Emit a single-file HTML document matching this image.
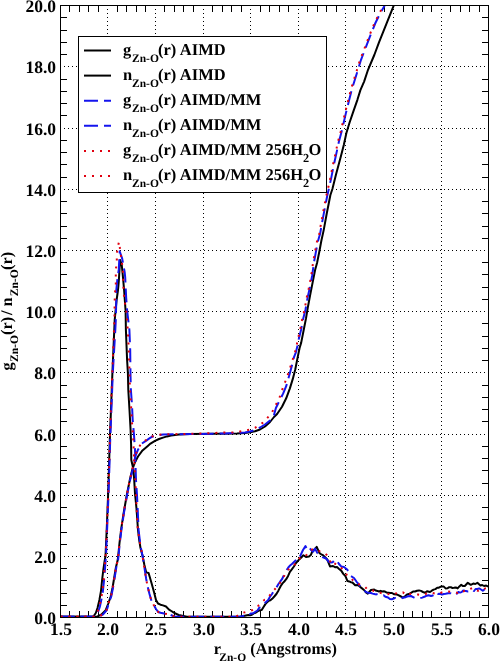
<!DOCTYPE html>
<html><head><meta charset="utf-8"><style>
html,body{margin:0;padding:0;background:#fff;}
svg{display:block;}

.tk{stroke:#000;stroke-width:1;}
text{text-rendering:geometricPrecision;font-family:"Liberation Serif","Times New Roman",serif;font-weight:bold;fill:#000;}
.tl{font-size:17.5px;}
.lg{font-size:16.5px;}
.sub{font-size:11.5px;}
.sub2{font-size:12.3px;}
.ax{font-size:16.3px;}
.axs{font-size:11.5px;}
</style></head><body>
<svg width="500" height="661" viewBox="0 0 500 661">
<defs><clipPath id="pc"><rect x="60" y="5.5" width="429" height="613"/></clipPath><pattern id="vd" x="0" y="1" width="4" height="4" patternUnits="userSpaceOnUse"><rect width="4" height="1"/></pattern><pattern id="hd" x="0" y="0" width="4" height="4" patternUnits="userSpaceOnUse"><rect width="1" height="4"/></pattern></defs>
<rect width="500" height="661" fill="#fff"/>
<rect x="107" y="9" width="1" height="605" fill="url(#vd)"/>
<rect x="155" y="9" width="1" height="605" fill="url(#vd)"/>
<rect x="203" y="9" width="1" height="605" fill="url(#vd)"/>
<rect x="250" y="9" width="1" height="605" fill="url(#vd)"/>
<rect x="298" y="9" width="1" height="605" fill="url(#vd)"/>
<rect x="345" y="9" width="1" height="605" fill="url(#vd)"/>
<rect x="393" y="9" width="1" height="605" fill="url(#vd)"/>
<rect x="441" y="9" width="1" height="605" fill="url(#vd)"/>
<rect x="64" y="556" width="421" height="1" fill="url(#hd)"/>
<rect x="64" y="495" width="421" height="1" fill="url(#hd)"/>
<rect x="64" y="434" width="421" height="1" fill="url(#hd)"/>
<rect x="64" y="372" width="421" height="1" fill="url(#hd)"/>
<rect x="64" y="311" width="421" height="1" fill="url(#hd)"/>
<rect x="64" y="250" width="421" height="1" fill="url(#hd)"/>
<rect x="64" y="189" width="421" height="1" fill="url(#hd)"/>
<rect x="64" y="128" width="421" height="1" fill="url(#hd)"/>
<rect x="64" y="66" width="421" height="1" fill="url(#hd)"/>
<rect x="69" y="611" width="1" height="6"/>
<rect x="69" y="6" width="1" height="6"/>
<rect x="79" y="611" width="1" height="6"/>
<rect x="79" y="6" width="1" height="6"/>
<rect x="88" y="611" width="1" height="6"/>
<rect x="88" y="6" width="1" height="6"/>
<rect x="98" y="611" width="1" height="6"/>
<rect x="98" y="6" width="1" height="6"/>
<rect x="117" y="611" width="1" height="6"/>
<rect x="117" y="6" width="1" height="6"/>
<rect x="126" y="611" width="1" height="6"/>
<rect x="126" y="6" width="1" height="6"/>
<rect x="136" y="611" width="1" height="6"/>
<rect x="136" y="6" width="1" height="6"/>
<rect x="145" y="611" width="1" height="6"/>
<rect x="145" y="6" width="1" height="6"/>
<rect x="164" y="611" width="1" height="6"/>
<rect x="164" y="6" width="1" height="6"/>
<rect x="174" y="611" width="1" height="6"/>
<rect x="174" y="6" width="1" height="6"/>
<rect x="183" y="611" width="1" height="6"/>
<rect x="183" y="6" width="1" height="6"/>
<rect x="193" y="611" width="1" height="6"/>
<rect x="193" y="6" width="1" height="6"/>
<rect x="212" y="611" width="1" height="6"/>
<rect x="212" y="6" width="1" height="6"/>
<rect x="222" y="611" width="1" height="6"/>
<rect x="222" y="6" width="1" height="6"/>
<rect x="231" y="611" width="1" height="6"/>
<rect x="231" y="6" width="1" height="6"/>
<rect x="241" y="611" width="1" height="6"/>
<rect x="241" y="6" width="1" height="6"/>
<rect x="260" y="611" width="1" height="6"/>
<rect x="260" y="6" width="1" height="6"/>
<rect x="269" y="611" width="1" height="6"/>
<rect x="269" y="6" width="1" height="6"/>
<rect x="279" y="611" width="1" height="6"/>
<rect x="279" y="6" width="1" height="6"/>
<rect x="288" y="611" width="1" height="6"/>
<rect x="288" y="6" width="1" height="6"/>
<rect x="307" y="611" width="1" height="6"/>
<rect x="307" y="6" width="1" height="6"/>
<rect x="317" y="611" width="1" height="6"/>
<rect x="317" y="6" width="1" height="6"/>
<rect x="326" y="611" width="1" height="6"/>
<rect x="326" y="6" width="1" height="6"/>
<rect x="336" y="611" width="1" height="6"/>
<rect x="336" y="6" width="1" height="6"/>
<rect x="355" y="611" width="1" height="6"/>
<rect x="355" y="6" width="1" height="6"/>
<rect x="365" y="611" width="1" height="6"/>
<rect x="365" y="6" width="1" height="6"/>
<rect x="374" y="611" width="1" height="6"/>
<rect x="374" y="6" width="1" height="6"/>
<rect x="384" y="611" width="1" height="6"/>
<rect x="384" y="6" width="1" height="6"/>
<rect x="403" y="611" width="1" height="6"/>
<rect x="403" y="6" width="1" height="6"/>
<rect x="412" y="611" width="1" height="6"/>
<rect x="412" y="6" width="1" height="6"/>
<rect x="422" y="611" width="1" height="6"/>
<rect x="422" y="6" width="1" height="6"/>
<rect x="431" y="611" width="1" height="6"/>
<rect x="431" y="6" width="1" height="6"/>
<rect x="450" y="611" width="1" height="6"/>
<rect x="450" y="6" width="1" height="6"/>
<rect x="460" y="611" width="1" height="6"/>
<rect x="460" y="6" width="1" height="6"/>
<rect x="469" y="611" width="1" height="6"/>
<rect x="469" y="6" width="1" height="6"/>
<rect x="479" y="611" width="1" height="6"/>
<rect x="479" y="6" width="1" height="6"/>
<rect x="61" y="605" width="6" height="1"/>
<rect x="482" y="605" width="6" height="1"/>
<rect x="61" y="593" width="6" height="1"/>
<rect x="482" y="593" width="6" height="1"/>
<rect x="61" y="580" width="6" height="1"/>
<rect x="482" y="580" width="6" height="1"/>
<rect x="61" y="568" width="6" height="1"/>
<rect x="482" y="568" width="6" height="1"/>
<rect x="61" y="544" width="6" height="1"/>
<rect x="482" y="544" width="6" height="1"/>
<rect x="61" y="532" width="6" height="1"/>
<rect x="482" y="532" width="6" height="1"/>
<rect x="61" y="519" width="6" height="1"/>
<rect x="482" y="519" width="6" height="1"/>
<rect x="61" y="507" width="6" height="1"/>
<rect x="482" y="507" width="6" height="1"/>
<rect x="61" y="483" width="6" height="1"/>
<rect x="482" y="483" width="6" height="1"/>
<rect x="61" y="470" width="6" height="1"/>
<rect x="482" y="470" width="6" height="1"/>
<rect x="61" y="458" width="6" height="1"/>
<rect x="482" y="458" width="6" height="1"/>
<rect x="61" y="446" width="6" height="1"/>
<rect x="482" y="446" width="6" height="1"/>
<rect x="61" y="421" width="6" height="1"/>
<rect x="482" y="421" width="6" height="1"/>
<rect x="61" y="409" width="6" height="1"/>
<rect x="482" y="409" width="6" height="1"/>
<rect x="61" y="397" width="6" height="1"/>
<rect x="482" y="397" width="6" height="1"/>
<rect x="61" y="385" width="6" height="1"/>
<rect x="482" y="385" width="6" height="1"/>
<rect x="61" y="360" width="6" height="1"/>
<rect x="482" y="360" width="6" height="1"/>
<rect x="61" y="348" width="6" height="1"/>
<rect x="482" y="348" width="6" height="1"/>
<rect x="61" y="336" width="6" height="1"/>
<rect x="482" y="336" width="6" height="1"/>
<rect x="61" y="323" width="6" height="1"/>
<rect x="482" y="323" width="6" height="1"/>
<rect x="61" y="299" width="6" height="1"/>
<rect x="482" y="299" width="6" height="1"/>
<rect x="61" y="287" width="6" height="1"/>
<rect x="482" y="287" width="6" height="1"/>
<rect x="61" y="274" width="6" height="1"/>
<rect x="482" y="274" width="6" height="1"/>
<rect x="61" y="262" width="6" height="1"/>
<rect x="482" y="262" width="6" height="1"/>
<rect x="61" y="238" width="6" height="1"/>
<rect x="482" y="238" width="6" height="1"/>
<rect x="61" y="226" width="6" height="1"/>
<rect x="482" y="226" width="6" height="1"/>
<rect x="61" y="213" width="6" height="1"/>
<rect x="482" y="213" width="6" height="1"/>
<rect x="61" y="201" width="6" height="1"/>
<rect x="482" y="201" width="6" height="1"/>
<rect x="61" y="177" width="6" height="1"/>
<rect x="482" y="177" width="6" height="1"/>
<rect x="61" y="164" width="6" height="1"/>
<rect x="482" y="164" width="6" height="1"/>
<rect x="61" y="152" width="6" height="1"/>
<rect x="482" y="152" width="6" height="1"/>
<rect x="61" y="140" width="6" height="1"/>
<rect x="482" y="140" width="6" height="1"/>
<rect x="61" y="115" width="6" height="1"/>
<rect x="482" y="115" width="6" height="1"/>
<rect x="61" y="103" width="6" height="1"/>
<rect x="482" y="103" width="6" height="1"/>
<rect x="61" y="91" width="6" height="1"/>
<rect x="482" y="91" width="6" height="1"/>
<rect x="61" y="79" width="6" height="1"/>
<rect x="482" y="79" width="6" height="1"/>
<rect x="61" y="54" width="6" height="1"/>
<rect x="482" y="54" width="6" height="1"/>
<rect x="61" y="42" width="6" height="1"/>
<rect x="482" y="42" width="6" height="1"/>
<rect x="61" y="30" width="6" height="1"/>
<rect x="482" y="30" width="6" height="1"/>
<rect x="61" y="17" width="6" height="1"/>
<rect x="482" y="17" width="6" height="1"/>
<g fill="none" stroke-linejoin="round" clip-path="url(#pc)">
<polyline points="60.5,616.7 93.2,616.7 95.8,613.0 97.5,608.0 99.4,600.0 101.0,591.0 102.1,580.0 103.3,570.0 104.5,562.0 105.5,556.0 106.9,525.0 108.1,495.0 108.9,470.0 109.8,440.0 110.6,420.0 112.4,373.0 114.7,320.0 116.6,300.0 118.0,290.0 118.8,281.2 119.6,268.0 120.2,260.0 121.7,264.5 122.7,274.3 123.4,282.0 124.1,290.0 125.6,311.0 125.9,330.0 127.1,360.0 127.9,373.0 128.3,390.0 129.5,410.0 130.6,430.0 131.1,445.0 131.3,460.0 133.4,469.3 134.2,480.0 135.0,493.5 136.5,508.7 138.0,530.0 139.2,540.0 140.5,548.0 142.6,556.0 144.4,565.0 146.2,572.4 148.6,573.0 151.5,583.0 154.0,592.0 156.0,600.0 158.0,603.5 160.5,604.7 163.0,605.4 166.0,606.5 169.0,609.6 171.3,611.0 173.8,612.6 178.6,615.0 187.0,616.7 240.0,616.7 248.4,615.0 250.2,615.2 251.9,614.7 253.7,613.4 255.4,612.8 257.5,611.4 259.6,610.3 261.7,610.0 263.4,607.2 265.2,604.4 266.9,602.4 268.7,600.8 270.4,600.3 272.2,598.8 274.3,596.5 276.4,594.0 278.5,590.4 280.6,586.2 282.5,583.4 284.3,581.5 286.2,579.2 288.1,575.9 289.9,571.8 291.8,569.4 293.9,566.5 296.0,563.0 299.2,559.4 301.3,557.5 303.4,555.2 306.0,557.0 309.0,556.6 310.8,555.1 312.5,551.0 315.0,549.0 316.7,546.8 319.5,553.1 321.2,554.3 323.0,555.2 325.1,557.2 327.2,559.4 330.0,566.4 333.0,566.0 335.0,567.2 337.0,567.1 339.1,569.0 341.2,570.6 343.3,573.9 345.4,576.2 347.5,581.1 349.1,581.4 350.8,582.2 352.4,582.5 355.2,585.3 358.0,585.0 360.8,587.4 364.0,590.0 365.9,592.4 367.8,593.6 371.0,590.0 374.2,589.6 375.8,590.6 377.4,590.9 379.0,591.5 380.6,590.8 382.2,591.5 383.8,591.2 385.4,591.8 387.0,592.7 388.6,592.8 390.3,593.0 392.0,593.0 394.3,594.3 396.6,594.4 398.3,595.2 400.0,596.0 403.0,597.6 405.0,596.2 407.0,594.5 409.0,594.0 411.0,592.8 413.0,591.6 415.0,591.5 417.0,590.7 419.0,590.4 421.0,590.9 423.0,592.0 425.0,592.7 427.0,591.2 430.0,592.0 431.8,590.7 433.6,589.6 435.4,589.1 437.2,587.8 438.8,587.7 440.4,586.8 442.0,586.6 443.8,586.6 445.6,588.4 447.4,588.3 449.2,587.2 450.8,587.2 452.4,588.0 454.0,587.8 455.8,587.4 457.6,588.4 459.4,586.4 461.2,584.8 463.0,586.1 464.8,586.0 467.8,582.8 470.8,584.8 473.2,583.6 475.3,584.0 477.4,582.8 480.4,585.4 482.2,585.0 484.0,586.0 486.2,585.6 488.5,586.6" stroke="#000" stroke-width="2"/>
<polyline points="60.5,616.7 97.0,616.7 101.5,614.5 105.5,610.5 108.3,603.5 110.7,596.5 112.6,587.5 114.4,576.5 115.9,567.5 117.7,560.0 118.2,556.0 119.5,543.0 121.3,528.4 123.7,512.7 126.8,495.0 128.0,489.0 129.8,480.0 132.4,469.3 134.8,462.5 138.0,456.5 142.5,450.4 147.8,445.9 150.5,443.6 155.0,440.8 159.0,439.0 163.0,437.6 167.0,436.4 171.0,435.5 175.0,434.9 179.0,434.4 190.0,434.0 237.0,433.5 245.0,433.0 250.0,432.2 255.0,431.2 260.0,429.5 265.0,426.5 270.0,422.0 274.0,417.0 277.1,414.0 282.0,406.7 286.2,398.3 289.8,388.6 292.8,378.9 295.3,369.2 297.7,357.1 299.6,348.0 301.2,342.6 303.6,330.5 306.0,318.4 307.8,307.5 310.3,294.2 312.7,282.1 315.1,270.0 317.1,262.8 319.5,250.7 321.3,241.0 323.7,230.1 326.8,213.2 330.4,195.0 332.4,189.0 336.0,174.5 340.9,156.3 343.8,145.0 346.4,133.0 349.5,122.8 353.2,111.9 357.4,99.8 360.4,90.1 364.1,81.6 367.7,70.7 370.7,63.5 374.3,55.0 379.0,42.3 386.3,24.2 391.1,12.1 393.8,5.4 394.5,3.0" stroke="#000" stroke-width="2"/>
<polyline points="60.5,616.7 95.0,616.7 97.5,613.5 99.8,607.0 101.5,599.0 102.8,591.8 103.8,582.7 104.6,573.6 105.3,564.5 106.0,556.0 107.3,525.0 108.5,495.0 109.3,470.0 110.2,440.0 111.0,420.0 112.8,373.0 115.3,330.0 115.8,320.0 116.3,299.0 116.3,290.0 117.3,280.2 118.8,269.4 119.7,251.2 122.2,258.6 124.7,272.4 125.2,277.3 125.6,286.1 126.2,298.0 127.1,310.0 129.4,330.0 130.2,350.0 130.5,375.0 130.9,390.0 132.0,405.0 132.7,420.0 134.0,435.0 135.0,450.0 135.5,465.0 136.0,480.0 137.0,495.0 138.0,516.0 138.6,530.0 140.5,546.0 142.6,556.0 144.5,568.0 146.2,579.0 147.4,585.6 149.5,594.0 151.5,601.0 153.4,604.4 156.0,609.0 158.2,612.0 160.5,612.8 164.0,613.5 169.5,614.5 175.0,616.7 240.0,616.7 247.0,615.0 248.8,615.7 250.5,613.5 252.2,613.6 254.0,612.8 255.8,611.5 257.5,610.5 259.2,607.8 261.0,607.2 264.0,604.0 266.0,601.9 268.0,600.2 270.0,596.7 272.0,594.0 274.2,590.2 276.4,587.6 278.3,584.3 280.1,581.7 282.0,579.2 284.1,574.8 286.2,570.8 288.3,567.5 290.4,565.2 292.2,563.8 294.0,562.0 295.6,560.4 297.2,557.7 298.8,558.2 300.6,555.2 303.0,550.0 305.5,546.1 307.0,549.0 309.0,546.8 311.0,550.0 313.2,551.7 315.0,548.5 317.4,553.1 320.0,554.0 323.0,557.3 326.0,558.5 328.6,561.5 330.7,562.5 332.8,562.2 335.0,559.5 337.0,560.8 339.0,564.0 341.2,566.4 344.0,567.0 346.8,569.2 349.0,572.0 351.0,576.2 354.0,578.0 356.6,581.8 358.3,583.7 360.0,586.0 361.8,587.7 363.6,590.2 365.7,591.6 367.8,592.8 371.0,593.0 372.6,593.6 374.2,594.0 375.8,594.4 377.9,594.0 380.0,594.5 381.8,595.4 383.6,595.2 385.4,596.8 388.0,597.5 389.9,599.1 391.8,599.2 395.0,598.0 398.2,598.4 401.0,599.0 402.8,597.6 404.6,597.6 406.3,596.8 408.0,596.2 411.0,596.0 412.6,596.8 414.2,597.7 415.8,598.4 419.0,598.5 422.2,597.6 425.0,596.5 426.8,595.7 428.6,595.2 431.0,596.0 432.9,595.5 434.8,594.4 436.4,592.2 438.0,593.9 439.6,593.8 442.0,594.5 443.8,594.0 445.6,593.8 448.0,593.2 450.4,593.2 452.0,594.4 453.6,593.4 455.2,594.4 456.8,593.7 458.4,592.0 460.0,592.6 461.6,592.1 463.2,590.4 464.8,590.8 468.0,591.5 470.8,591.4 472.4,589.7 474.0,591.0 475.6,589.0 477.4,589.0 479.2,588.4 481.0,589.5 482.8,590.8 485.0,589.0 486.8,588.7 488.5,588.4" stroke="#1414ee" stroke-width="2" stroke-dasharray="14 6"/>
<polyline points="60.5,616.7 99.0,616.7 103.1,614.4 106.8,610.0 109.0,602.6 111.3,596.3 113.1,587.2 114.9,576.3 116.3,567.3 118.1,560.0 118.5,556.0 119.8,543.0 121.6,528.4 124.0,512.7 127.1,495.0 128.3,489.0 130.1,480.0 132.7,469.3 134.2,462.0 135.4,456.0 138.0,449.7 141.8,443.6 146.3,440.6 149.0,438.6 151.8,436.8 155.0,435.8 158.2,435.2 163.0,434.5 200.0,434.0 225.0,433.5 245.0,432.5 250.0,431.5 255.0,430.0 260.0,427.5 265.0,424.5 270.0,420.5 274.0,415.0 275.9,408.0 279.5,400.7 283.2,393.4 286.2,386.2 288.6,377.7 291.6,366.8 294.0,357.1 295.9,352.3 297.7,345.0 298.8,339.0 301.2,329.3 303.0,319.6 305.4,310.0 307.8,296.6 309.7,288.2 312.1,276.0 314.1,261.6 315.9,251.9 317.7,242.2 320.1,233.7 322.5,220.4 325.0,207.1 327.4,195.0 328.8,189.0 331.2,178.1 333.6,166.0 336.0,155.1 339.0,141.2 341.5,132.0 343.5,123.5 345.9,113.1 348.9,101.0 352.0,88.9 355.0,79.2 358.0,69.5 361.0,59.8 364.5,50.8 370.0,36.3 375.4,23.0 380.2,13.3 385.1,4.8 386.0,3.0" stroke="#1414ee" stroke-width="2" stroke-dasharray="14 6"/>
<polyline points="60.5,616.7 94.0,616.7 97.0,613.5 99.3,607.0 101.0,599.0 102.4,591.8 103.4,582.7 104.2,573.6 104.9,564.5 105.6,556.0 107.0,525.0 108.2,495.0 109.0,470.0 109.9,440.0 110.5,420.0 112.3,373.0 114.4,320.0 114.8,294.0 115.8,286.1 115.8,277.8 115.8,269.9 116.8,261.5 116.8,253.7 117.5,248.0 119.0,241.9 119.7,246.8 121.7,261.0 122.7,268.9 123.2,277.3 123.2,283.7 123.7,291.5 124.2,299.0 126.3,311.0 127.8,330.0 128.8,350.0 129.5,373.0 130.0,390.0 131.0,405.0 131.8,420.0 133.3,440.0 134.2,460.0 135.0,475.0 136.0,493.5 137.0,516.2 137.8,530.0 140.5,546.0 142.6,556.0 144.3,568.0 146.0,578.0 147.4,585.6 149.5,594.0 151.5,601.0 153.4,604.4 156.0,609.0 158.2,612.0 160.5,612.8 164.0,613.5 169.5,614.5 175.0,616.7 236.0,616.7 242.8,612.8 248.0,611.5 250.3,610.8 252.6,610.0 254.5,609.2 256.3,606.8 258.2,605.8 259.8,604.6 261.4,602.5 263.0,601.0 264.7,599.7 266.3,599.5 268.0,597.4 269.9,595.1 271.7,592.7 273.6,590.4 275.5,588.6 277.3,586.7 279.2,584.1 282.0,580.0 284.1,576.1 286.2,572.2 287.8,570.7 289.4,568.3 291.0,567.0 292.7,565.8 294.3,564.7 296.0,563.8 299.0,559.0 302.0,555.9 304.1,555.0 306.2,555.2 309.0,551.5 311.8,549.6 313.9,549.1 316.0,550.0 318.1,550.1 320.2,551.7 322.3,552.3 324.4,553.1 326.5,554.8 328.6,556.6 331.4,565.0 334.0,563.5 337.0,564.3 339.1,565.9 341.2,567.8 344.0,571.0 346.8,574.8 349.6,576.5 352.4,579.7 355.0,582.0 358.0,583.9 361.0,585.0 362.8,585.7 364.6,586.4 367.0,589.0 370.2,590.4 372.1,590.1 374.0,591.0 375.7,591.3 377.3,591.8 379.0,592.0 381.0,593.1 383.0,593.5 385.0,593.6 387.0,594.4 389.0,594.0 391.0,594.0 393.0,592.9 395.0,593.6 397.1,593.1 399.3,592.1 401.4,592.8 403.0,592.4 404.6,593.7 406.2,592.4 407.8,593.6 411.0,594.0 412.6,594.5 414.2,594.4 415.8,594.4 417.9,594.6 420.0,595.0 421.9,594.9 423.8,594.4 427.0,593.5 428.6,593.5 430.2,593.5 431.8,592.8 435.0,593.5 437.0,593.5 439.0,593.8 440.7,592.9 442.3,592.3 444.0,592.0 446.0,591.3 448.0,591.4 450.1,591.7 452.2,592.0 454.1,591.9 456.0,592.5 457.7,593.0 459.5,591.7 461.2,592.6 462.8,591.5 464.4,591.0 466.0,590.8 468.0,589.0 470.0,589.0 473.2,587.8 475.6,590.2 478.0,590.8 480.4,589.6 482.0,588.1 483.6,588.7 485.2,588.4 486.9,588.0 488.5,588.0" stroke="#e00010" stroke-width="2" stroke-dasharray="2 6"/>
<polyline points="60.5,616.7 98.5,616.7 102.8,614.4 106.5,610.0 108.7,602.6 111.0,596.3 112.8,587.2 114.6,576.3 116.0,567.3 117.8,560.0 118.2,556.0 119.5,543.0 121.3,528.4 123.7,512.7 126.8,495.0 128.0,489.0 129.8,480.0 132.4,469.3 133.9,462.0 135.1,456.0 137.7,449.2 141.5,443.2 146.0,440.2 148.8,438.3 151.6,436.6 155.0,435.6 158.2,435.0 163.0,434.4 200.0,433.6 225.0,432.5 235.0,432.5 240.0,431.5 245.0,430.8 250.0,429.5 255.0,427.8 260.0,424.8 264.0,421.8 269.0,416.0 272.0,412.5 274.5,407.0 278.9,399.5 282.6,388.6 285.5,381.0 288.0,374.0 291.0,365.0 293.5,357.0 295.9,349.2 297.9,339.0 300.3,329.3 302.1,319.6 304.5,310.0 306.9,296.6 308.8,288.2 311.2,276.0 313.2,261.6 315.0,251.9 316.8,242.2 319.2,233.7 321.6,220.4 324.1,207.1 326.5,195.0 327.9,189.0 330.3,178.1 332.7,166.0 335.1,155.1 338.1,141.2 340.6,132.0 342.6,123.5 345.0,113.1 348.0,101.0 351.1,88.9 354.1,79.2 357.1,69.5 360.1,59.8 363.6,50.8 369.1,36.3 374.5,23.0 379.3,13.3 384.2,4.8 385.1,3.0" stroke="#e00010" stroke-width="2" stroke-dasharray="2 6"/>
</g>
<rect x="60" y="5" width="429" height="1"/><rect x="60" y="617" width="429" height="1"/><rect x="60" y="5" width="1" height="613"/><rect x="488" y="5" width="1" height="613"/>
<text x="56" y="623.8" class="tl" text-anchor="end">0.0</text>
<text x="56" y="562.8" class="tl" text-anchor="end">2.0</text>
<text x="56" y="501.8" class="tl" text-anchor="end">4.0</text>
<text x="56" y="440.8" class="tl" text-anchor="end">6.0</text>
<text x="56" y="378.8" class="tl" text-anchor="end">8.0</text>
<text x="56" y="317.8" class="tl" text-anchor="end">10.0</text>
<text x="56" y="256.8" class="tl" text-anchor="end">12.0</text>
<text x="56" y="195.8" class="tl" text-anchor="end">14.0</text>
<text x="56" y="134.8" class="tl" text-anchor="end">16.0</text>
<text x="56" y="72.8" class="tl" text-anchor="end">18.0</text>
<text x="56" y="11.8" class="tl" text-anchor="end">20.0</text>
<text x="61.0" y="635.4" class="tl" text-anchor="middle">1.5</text>
<text x="108.0" y="635.4" class="tl" text-anchor="middle">2.0</text>
<text x="156.0" y="635.4" class="tl" text-anchor="middle">2.5</text>
<text x="204.0" y="635.4" class="tl" text-anchor="middle">3.0</text>
<text x="251.0" y="635.4" class="tl" text-anchor="middle">3.5</text>
<text x="299.0" y="635.4" class="tl" text-anchor="middle">4.0</text>
<text x="346.0" y="635.4" class="tl" text-anchor="middle">4.5</text>
<text x="394.0" y="635.4" class="tl" text-anchor="middle">5.0</text>
<text x="442.0" y="635.4" class="tl" text-anchor="middle">5.5</text>
<text x="489.0" y="635.4" class="tl" text-anchor="middle">6.0</text>
<rect x="78.5" y="36.5" width="248.0" height="156.0" fill="#fff" stroke="#000" stroke-width="1"/>
<line x1="84" y1="50.5" x2="111" y2="50.5" stroke="#000" stroke-width="2"/>
<text x="123" y="54.7" class="lg">g</text>
<text x="132" y="61.7" class="sub">Zn-O</text>
<text x="158" y="54.7" class="lg">(r)</text>
<text x="179.8" y="54.7" class="lg">AIMD</text>
<line x1="84" y1="75.6" x2="111" y2="75.6" stroke="#000" stroke-width="2"/>
<text x="123" y="79.8" class="lg">n</text>
<text x="132" y="86.8" class="sub">Zn-O</text>
<text x="158" y="79.8" class="lg">(r)</text>
<text x="179.8" y="79.8" class="lg">AIMD</text>
<line x1="84" y1="100.7" x2="111" y2="100.7" stroke="#1414ee" stroke-width="2" stroke-dasharray="14 6"/>
<text x="123" y="104.9" class="lg">g</text>
<text x="132" y="111.9" class="sub">Zn-O</text>
<text x="158" y="104.9" class="lg">(r)</text>
<text x="179.8" y="104.9" class="lg">AIMD/MM</text>
<line x1="84" y1="125.8" x2="111" y2="125.8" stroke="#1414ee" stroke-width="2" stroke-dasharray="14 6"/>
<text x="123" y="130.0" class="lg">n</text>
<text x="132" y="137.0" class="sub">Zn-O</text>
<text x="158" y="130.0" class="lg">(r)</text>
<text x="179.8" y="130.0" class="lg">AIMD/MM</text>
<line x1="84" y1="150.9" x2="111" y2="150.9" stroke="#e00010" stroke-width="2" stroke-dasharray="2 6"/>
<text x="123" y="155.1" class="lg">g</text>
<text x="132" y="162.1" class="sub">Zn-O</text>
<text x="158" y="155.1" class="lg">(r)</text>
<text x="179.8" y="155.1" class="lg">AIMD/MM 256H</text>
<text x="302.9" y="162.0" class="sub2">2</text>
<text x="308.6" y="155.1" class="lg">O</text>
<line x1="84" y1="176.0" x2="111" y2="176.0" stroke="#e00010" stroke-width="2" stroke-dasharray="2 6"/>
<text x="123" y="180.2" class="lg">n</text>
<text x="132" y="187.2" class="sub">Zn-O</text>
<text x="158" y="180.2" class="lg">(r)</text>
<text x="179.8" y="180.2" class="lg">AIMD/MM 256H</text>
<text x="302.9" y="187.1" class="sub2">2</text>
<text x="308.6" y="180.2" class="lg">O</text>
<g transform="translate(12.3,371) rotate(-90)"><text x="0.5" y="0" class="ax">g</text><text x="9" y="6" class="axs">Zn-O</text><text x="36" y="0" class="ax">(r)</text><text x="56" y="0" class="ax">/</text><text x="64.5" y="0" class="ax">n</text><text x="74.8" y="6" class="axs">Zn-O</text><text x="101" y="0" class="ax">(r)</text></g>
<text class="ax" x="213.7" y="654.2">r</text><text class="axs" x="219.3" y="661.4">Zn-O</text><text class="ax" x="250.3" y="654.2">(Angstroms)</text>
</svg>
</body></html>
